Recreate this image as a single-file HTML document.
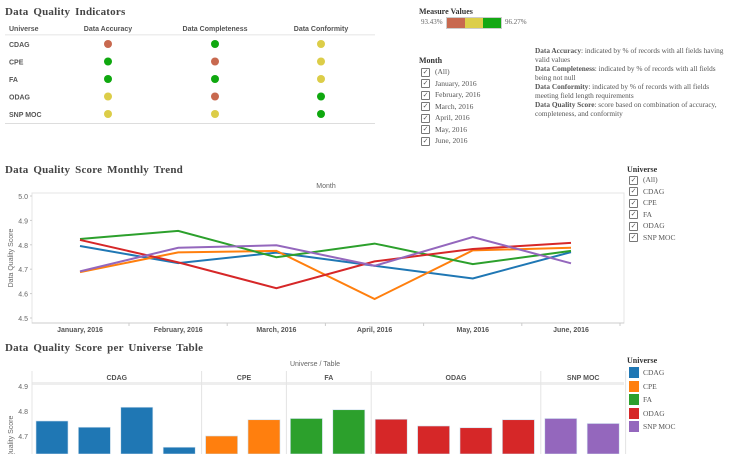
<!DOCTYPE html>
<html><head><meta charset="utf-8"><style>
html,body{margin:0;width:736px;height:454px;overflow:hidden}
body{background:#fff;font-family:"Liberation Sans",sans-serif;position:relative}
.ser{font-family:"Liberation Serif",serif}
.abs{position:absolute}
.h1{font-family:"Liberation Serif",serif;font-weight:bold;font-size:11px;color:#444;letter-spacing:.2px;word-spacing:2px}
.cb{display:inline-block;box-sizing:border-box;width:9px;height:9px;border:1px solid #777;border-radius:1px;margin-right:5px;vertical-align:middle;font-size:7px;line-height:7px;text-align:center;color:#555}
.fl{font-family:"Liberation Serif",serif;font-size:7.5px;line-height:11.5px;color:#555;height:11.5px;white-space:nowrap}
</style></head><body>
<div class="abs h1" style="left:5px;top:6px">Data Quality Indicators</div>
<svg class="abs" style="left:0;top:0" width="380" height="130" id="tbl"></svg>

<div class="abs ser" style="left:419px;top:7px;font-size:8px;font-weight:bold;color:#333">Measure Values</div>
<div class="abs ser" style="left:421px;top:18px;font-size:7px;color:#666">93.43%</div>
<div class="abs" style="left:446px;top:17px;width:54px;height:10px;border:1px solid #ccc;display:flex"><div style="flex:1;background:#c8694f"></div><div style="flex:1;background:#dcce49"></div><div style="flex:1;background:#14a814"></div></div>
<div class="abs ser" style="left:505px;top:18px;font-size:7px;color:#666">96.27%</div>

<div class="abs ser" style="left:419px;top:56px;font-size:8px;font-weight:bold;color:#333">Month</div>
<div class="abs" style="left:421px;top:66px">
<div class="fl"><span class="cb">✓</span>(All)</div>
<div class="fl"><span class="cb">✓</span>January, 2016</div>
<div class="fl"><span class="cb">✓</span>February, 2016</div>
<div class="fl"><span class="cb">✓</span>March, 2016</div>
<div class="fl"><span class="cb">✓</span>April, 2016</div>
<div class="fl"><span class="cb">✓</span>May, 2016</div>
<div class="fl"><span class="cb">✓</span>June, 2016</div>
</div>
<div class="abs ser" style="left:535px;top:46px;width:190px;font-size:7.3px;line-height:9px;color:#555">
<b>Data Accuracy</b>: indicated by % of records with all fields having valid values<br><b>Data Completeness</b>: indicated by % of records with all fields being not null<br><b>Data Conformity</b>: indicated by % of records with all fields meeting field length requirements<br><b>Data Quality Score</b>: score based on combination of accuracy, completeness, and conformity</div>

<div class="abs h1" style="left:5px;top:164px">Data Quality Score Monthly Trend</div>
<div class="abs ser" style="left:627px;top:165px;font-size:8px;font-weight:bold;color:#333">Universe</div>
<div class="abs" style="left:629px;top:174px">
<div class="fl"><span class="cb">✓</span>(All)</div>
<div class="fl"><span class="cb">✓</span>CDAG</div>
<div class="fl"><span class="cb">✓</span>CPE</div>
<div class="fl"><span class="cb">✓</span>FA</div>
<div class="fl"><span class="cb">✓</span>ODAG</div>
<div class="fl"><span class="cb">✓</span>SNP MOC</div>
</div>
<svg class="abs" style="left:0;top:178px" width="630" height="160" id="line"></svg>

<div class="abs h1" style="left:5px;top:342px">Data Quality Score per Universe Table</div>
<div class="abs ser" style="left:627px;top:356px;font-size:8px;font-weight:bold;color:#333">Universe</div>
<div class="abs" style="left:629px;top:367px" id="leg"></div>
<svg class="abs" style="left:0;top:355px" width="630" height="99" id="bar"></svg>

<script>
const NS='http://www.w3.org/2000/svg';
function mk(p,t,a){const e=document.createElementNS(NS,t);for(const k in a)e.setAttribute(k,a[k]);p.appendChild(e);return e;}
function tx(p,x,y,s,a){const e=mk(p,'text',Object.assign({x:x,y:y},a));e.textContent=s;return e;}

// Indicators table
const rows=['CDAG','CPE','FA','ODAG','SNP MOC'];
const cols=['Data Accuracy','Data Completeness','Data Conformity'];
const status=[['r','g','y'],['g','r','y'],['g','g','y'],['y','r','g'],['y','y','g']];
const statusColor={r:'#c8694f',g:'#0fa80f',y:'#dccd48'};
const T=document.getElementById('tbl');
const colX=[108,215,321];
tx(T,9,31,'Universe',{'font-size':7,'font-weight':'bold',fill:'#555'});
cols.forEach((c,i)=>{const t=tx(T,colX[i],31,c,{'font-size':7,'font-weight':'bold',fill:'#555','text-anchor':'middle'});});
mk(T,'rect',{x:5,y:34,width:370,height:1.5,fill:'#eee'});
mk(T,'rect',{x:5,y:123,width:370,height:1,fill:'#ddd'});
rows.forEach((r,i)=>{const y=44+i*17.5;
 const t=tx(T,9,y+3,r,{'font-size':7,'font-weight':'bold',fill:'#555'});
 status[i].forEach((s,j)=>{const c=mk(T,'circle',{cx:colX[j],cy:y,r:4,fill:statusColor[s]});});});

// Line chart
const months=['January, 2016','February, 2016','March, 2016','April, 2016','May, 2016','June, 2016'];
const series=['CDAG','CPE','FA','ODAG','SNP MOC'];
const colors=['#1f77b4','#ff7f0e','#2ca02c','#d62728','#9467bd'];
const cdagV=[4.795,4.725,4.768,4.714,4.662,4.77];
const cpeV=[4.688,4.769,4.775,4.578,4.777,4.788];
const faV=[4.824,4.857,4.749,4.805,4.721,4.775];
const odagV=[4.82,4.728,4.622,4.732,4.783,4.808];
const snpV=[4.691,4.788,4.798,4.714,4.832,4.724];
const yTicks=[4.5,4.6,4.7,4.8,4.9,5.0];
const L=document.getElementById('line');
const oy=178;
const ly=v=>318-oy-(v-4.5)/0.5*122;
const lx=i=>80+i*98.2;
tx(L,326,10,'Month',{'font-size':7,fill:'#666','text-anchor':'middle'});
mk(L,'rect',{x:32,y:15,width:592,height:130,fill:'none',stroke:'#e4e4e4'});
mk(L,'line',{x1:32,y1:145,x2:624,y2:145,stroke:'#ccc'});
yTicks.forEach(v=>{tx(L,28,ly(v)+3,v.toFixed(1),{'font-size':7,fill:'#666','text-anchor':'end'});mk(L,'line',{x1:30,y1:ly(v),x2:32,y2:ly(v),stroke:'#ccc'});});
months.forEach((m,i)=>{tx(L,lx(i),154,m,{'font-size':7,'font-weight':'bold',fill:'#555','text-anchor':'middle'});mk(L,'line',{x1:lx(i)+49,y1:145,x2:lx(i)+49,y2:148,stroke:'#ccc'});});
tx(L,0,0,'Data Quality Score',{'font-size':7,fill:'#666','text-anchor':'middle',transform:'translate(13,80) rotate(-90)'});
[cdagV,cpeV,faV,odagV,snpV].forEach((vals,s)=>{
 const p=mk(L,'polyline',{points:vals.map((v,i)=>lx(i)+','+ly(v)).join(' '),fill:'none',stroke:colors[s],'stroke-width':2});
 });

// Bar chart
const barGroups=['CDAG','CPE','FA','ODAG','SNP MOC'];
const barCounts=[4,2,2,4,2];
const barValues=[4.76,4.735,4.815,4.655,4.70,4.765,4.77,4.805,4.767,4.74,4.733,4.765,4.77,4.75];
const barTicks=[4.7,4.8,4.9];
const B=document.getElementById('bar');
const by=v=>436-355-(v-4.7)/0.1*25;
const step=42.4;
tx(B,315,11,'Universe  /  Table',{'font-size':7,fill:'#666','text-anchor':'middle'});
mk(B,'rect',{x:32,y:27,width:592,height:3,fill:'#eee'});
barTicks.forEach(v=>tx(B,28,by(v)+3,v.toFixed(1),{'font-size':7,fill:'#666','text-anchor':'end'}));
tx(B,0,0,'Data Quality Score',{'font-size':7,fill:'#666','text-anchor':'middle',transform:'translate(13,90) rotate(-90)'});
mk(B,'line',{x1:32,y1:16,x2:32,y2:99,stroke:'#e4e4e4'});
let k=0,x0=32;
barGroups.forEach((g,gi)=>{const w=barCounts[gi]*step;
 tx(B,x0+w/2,25,g,{'font-size':7,'font-weight':'bold',fill:'#555','text-anchor':'middle'});
 mk(B,'line',{x1:x0+w,y1:16,x2:x0+w,y2:99,stroke:'#e4e4e4'});
 for(let j=0;j<barCounts[gi];j++){const v=barValues[k++];const r=mk(B,'rect',{x:x0+j*step+4,y:by(v),width:32,height:Math.max(0,99-by(v)),fill:colors[gi],stroke:'#cfe0ee','stroke-width':0.6});
  }
 x0+=w;});
const leg=document.getElementById('leg');
barGroups.forEach((g,i)=>{const d=document.createElement('div');d.className='fl';d.style.height='13.5px';
 
 
 d.innerHTML='<span style="display:inline-block;width:10px;height:11px;background:'+colors[i]+';margin-right:4px;vertical-align:-3px"></span>'+g;leg.appendChild(d);});
</script>
</body></html>
